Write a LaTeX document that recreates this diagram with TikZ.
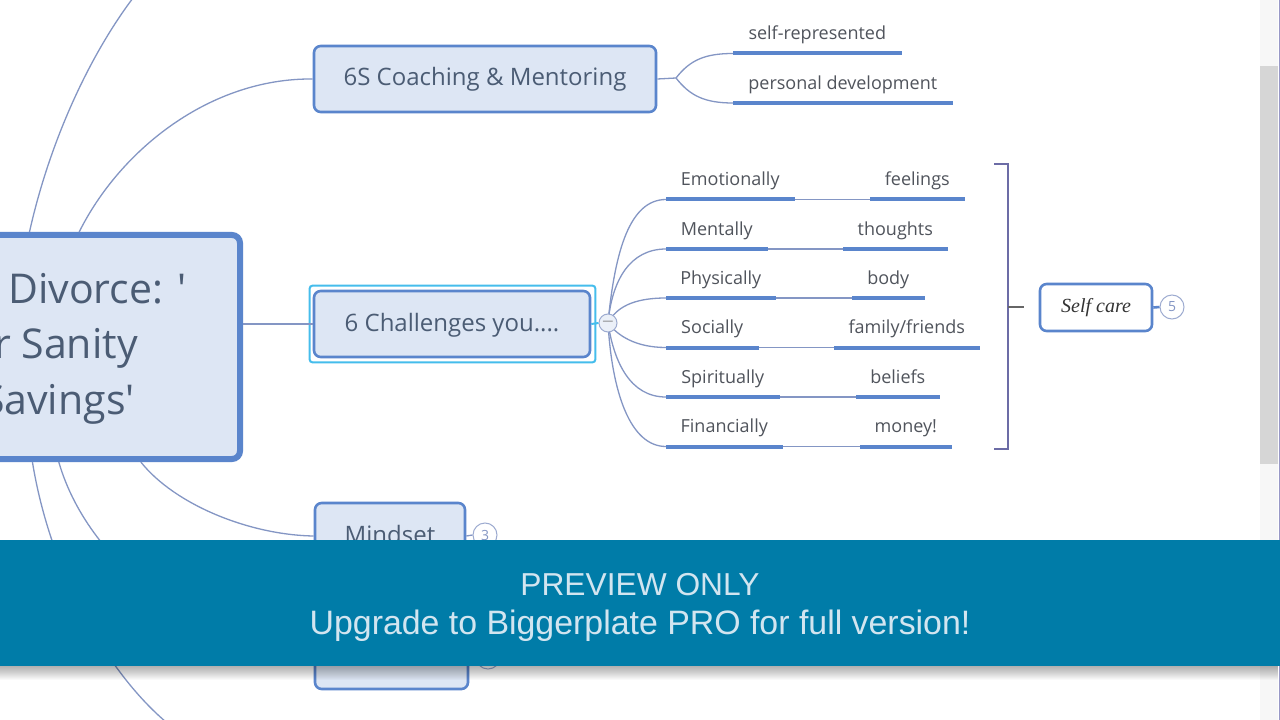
\documentclass[tikz,border=0pt]{standalone}
\usepackage{fontspec}
\setmainfont{Open Sans}
\newfontfamily\bannerfont{Liberation Sans}
\newfontfamily\carefont{Liberation Serif}
\usepackage{xcolor}
\usepackage{tikz}
\usetikzlibrary{positioning}
\def\px{0.75pt}
\definecolor{edgeblue}{HTML}{5A85CC}
\definecolor{fillblue}{HTML}{DDE6F4}
\definecolor{linkblue}{HTML}{8496C4}
\definecolor{textgrey}{HTML}{50545C}
\definecolor{nodetext}{HTML}{4B5C74}
\definecolor{selectcyan}{HTML}{45BDEC}
\definecolor{bannerblue}{HTML}{007CA8}
\definecolor{bannertext}{HTML}{D2E5F0}
\definecolor{bracketblue}{HTML}{6C6CA6}

\begin{document}
\begin{tikzpicture}[
        x=0.75pt, y=-0.75pt,
        branch/.style={rectangle, draw=edgeblue, fill=fillblue, rounded corners=5pt, line width=2.6*\px, text=nodetext, text height=19*\px, text depth=5*\px, font=\fontsize{18}{22}\selectfont},
        topic/.style={inner sep=0pt, text height=14*\px, text depth=13.5*\px, text=textgrey, anchor=south west, font=\fontsize{13.5}{16}\selectfont},
        bar/.style={draw=edgeblue, line width=4*\px},
        link/.style={draw=linkblue, line width=1.3*\px},
        count/.style={circle, draw=linkblue!80, fill=white, line width=1*\px, inner sep=0pt, minimum size=24*\px, text=linkblue, font=\fontsize{10.5}{12}\selectfont},
        central/.style={anchor=base east, inner sep=0pt, text=nodetext, font=\fontsize{30.8}{36}\selectfont},
        notice/.style={anchor=base, inner sep=0pt, text=bannertext}
    ]
    \useasboundingbox (0,0) rectangle (1280,720);
    \fill[white] (0,0) rectangle (1280,720);

    % scroll bar
    \fill[black!3] (1260,0) rectangle (1278,720);
    \fill[black!16] (1260,66) rectangle (1278,464);
    \fill[black!55!blue!40] (1278.5,0) rectangle (1280,720);

    % main boxes
    \node[branch, line width=6*\px, rounded corners=6pt, minimum width=260*\px, minimum height=224*\px] (topicbox) at (110,347) {};
    \node[central] (lineone) at (187,303) {Divorce: \textquotesingle};
    \node[central] (linetwo) at (138,358) {r Sanity};
    \node[central] (linethree) at (135,414) {Savings\textquotesingle};

    \node[branch, minimum width=342*\px, minimum height=66*\px] (coaching) at (485,79) {6S Coaching \& Mentoring};
    \node[branch, minimum width=276*\px, minimum height=66*\px] (challenges) at (452,324) {6 Challenges you....};
    \draw[selectcyan, line width=2*\px, rounded corners=2pt] ([xshift=-3*\px, yshift=4*\px]challenges.north west) rectangle ([xshift=4*\px, yshift=-4*\px]challenges.south east);
    \node[branch, minimum width=150*\px, minimum height=66*\px] (mindset) at (390,536) {Mindset};
    \node[branch, minimum width=153*\px, minimum height=66*\px] (lowerbox) at (391.5,656) {};
    \node[branch, fill=white, minimum width=112*\px, minimum height=47*\px, text=black!80, text height=, text depth=, font=\carefont\itshape\fontsize{15}{16}\selectfont] (selfcare) at (1096,307.5) {Self care};

    % count badges
    \node[count] (selfcount) at (1172,307) {5};
    \node[count] (mindcount) at (485,535) {3};
    \node[count] (lowercount) at (488,657) {};
    \coordinate (hub) at (608,323);

    % links from the main box
    \coordinate (topoff) at (133,-2);
    \coordinate (leftoff) at (166,722);
    \draw[link] (topicbox.125.5) .. controls (50,140) and (90,55) .. (topoff);
    \draw[link] (topicbox.105.6) .. controls (120,150) and (210,78) .. (coaching.west);
    \draw[link] (topicbox.east |- challenges.west) -- (challenges.west);
    \draw[link] (topicbox.236) .. controls (50,570) and (105,670) .. (leftoff);
    \draw[link] (topicbox.246) .. controls (90,570) and (210,650) .. (lowerbox.west);
    \draw[link] (topicbox.285.6) .. controls (175,505) and (250,535) .. (mindset.west);
    \draw[link] (mindset.east) -- (mindcount.west);
    \draw[bar, line width=2.6*\px] (selfcare.east) -- (selfcount.west);

    % coaching topics
    \node[topic, minimum width=168*\px] (selfrep) at (733,53.5) {self-represented};
    \node[topic, minimum width=219*\px] (personal) at (733,103) {personal development};
    \coordinate (fork) at (676,78);
    \draw[link] (coaching.east) -- (fork);
    \draw[link] (fork) .. controls (690,60) and (705,53.5) .. (selfrep.south west);
    \draw[link] (fork) .. controls (690,96) and (705,103) .. (personal.south west);
    \draw[bar] (selfrep.south west) -- (selfrep.south east);
    \draw[bar] (personal.south west) -- (personal.south east);

    % challenges topics
    \node[topic, minimum width=128*\px] (emotion) at (666,199.5) {Emotionally};
    \node[topic, minimum width=94*\px] (feelings) at (870,199.5) {feelings};
    \node[topic, minimum width=101*\px] (mental) at (666,249) {Mentally};
    \node[topic, minimum width=104*\px] (thoughts) at (843,249) {thoughts};
    \node[topic, minimum width=109*\px] (physical) at (666,298) {Physically};
    \node[topic, minimum width=72*\px] (body) at (852,298) {body};
    \node[topic, minimum width=92*\px] (social) at (666,347.5) {Socially};
    \node[topic, minimum width=145*\px] (family) at (834,347.5) {family/friends};
    \node[topic, minimum width=113*\px] (spirit) at (666,397) {Spiritually};
    \node[topic, minimum width=83*\px] (beliefs) at (856,397) {beliefs};
    \node[topic, minimum width=116*\px] (finance) at (666,446.5) {Financially};
    \node[topic, minimum width=91*\px] (money) at (860,446.5) {money!};

    \draw[link] (hub) .. controls (615,250) and (630,199.5) .. (emotion.south west);
    \draw[link] (hub) .. controls (612,280) and (630,249) .. (mental.south west);
    \draw[link] (hub) .. controls (616,308) and (632,298) .. (physical.south west);
    \draw[link] (hub) .. controls (618,336) and (636,347.5) .. (social.south west);
    \draw[link] (hub) .. controls (614,362) and (630,397) .. (spirit.south west);
    \draw[link] (hub) .. controls (612,392) and (630,446.5) .. (finance.south west);

    \node[count, fill=fillblue!60, minimum size=18*\px, text=black!55, font=\fontsize{8}{10}\selectfont] (toggle) at (hub) {---};
    \draw[selectcyan, line width=2*\px] (challenges.east) -- (toggle.west);

    \draw[bar] (emotion.south west) -- (emotion.south east);
    \draw[link] (emotion.south east) -- (feelings.south west);
    \draw[bar] (feelings.south west) -- (feelings.south east);
    \draw[bar] (mental.south west) -- (mental.south east);
    \draw[link] (mental.south east) -- (thoughts.south west);
    \draw[bar] (thoughts.south west) -- (thoughts.south east);
    \draw[bar] (physical.south west) -- (physical.south east);
    \draw[link] (physical.south east) -- (body.south west);
    \draw[bar] (body.south west) -- (body.south east);
    \draw[bar] (social.south west) -- (social.south east);
    \draw[link] (social.south east) -- (family.south west);
    \draw[bar] (family.south west) -- (family.south east);
    \draw[bar] (spirit.south west) -- (spirit.south east);
    \draw[link] (spirit.south east) -- (beliefs.south west);
    \draw[bar] (beliefs.south west) -- (beliefs.south east);
    \draw[bar] (finance.south west) -- (finance.south east);
    \draw[link] (finance.south east) -- (money.south west);
    \draw[bar] (money.south west) -- (money.south east);

    % bracket
    \coordinate (brtop) at (994,164);
    \coordinate (brbottom) at (994,449);
    \coordinate (brmid) at (1008,307);
    \coordinate (brtick) at (1024,307);
    \draw[bracketblue, line width=1.8*\px] (brtop) -- (1008,164) -- (1008,449) -- (brbottom);
    \draw[black!60, line width=1.5*\px] (brmid) -- (brtick);

    % banner
    \foreach \i in {0,...,13}
        \fill[black, opacity=0.025] (0,666) rectangle (1278,680-\i);
    \fill[bannerblue] (0,540) rectangle (1280,666);
    \node[notice, font=\bannerfont\fontsize{23.8}{28}\selectfont] (preview) at (640,595) {PREVIEW ONLY};
    \node[notice, font=\bannerfont\fontsize{25.4}{30}\selectfont] (upgrade) at (640,634) {Upgrade to Biggerplate PRO for full version!};
\end{tikzpicture}
\end{document}
